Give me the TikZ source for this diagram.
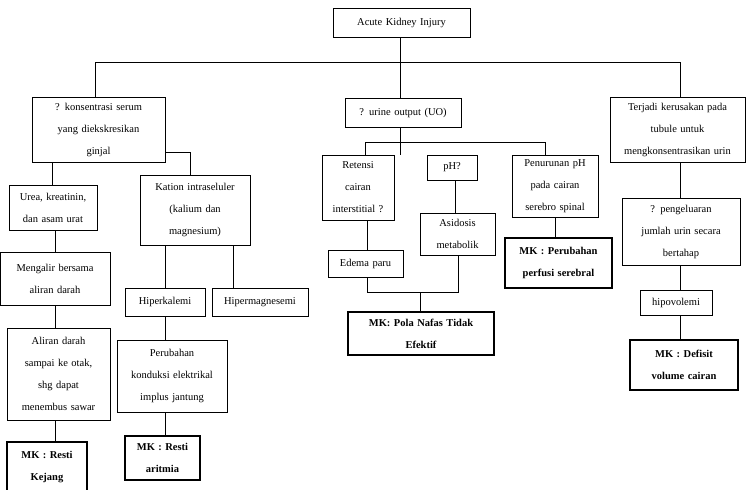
\documentclass[tikz,border=0pt]{standalone}
\usepackage{fontspec}
\setmainfont{Liberation Serif}
\begin{document}
\begin{tikzpicture}[x=1pt,y=-1pt,
  box/.style={draw,line width=0.8pt,inner sep=0pt,align=center,font=\fontsize{10.5}{22}\selectfont},
  mk/.style={box,line width=1.6pt,font=\fontsize{10.5}{22}\selectfont\bfseries},
  ln/.style={line width=0.8pt}]
\useasboundingbox (0,0) rectangle (750,490);
\newcommand\bx[7][box]{\node[#1,minimum width=#4-#2,minimum height=#5-#3,text width=#4-#2-4] (#6) at ({(#2+#4)/2},{(#3+#5)/2}) {#7};}
\bx{333}{8}{470}{37}{aki}{Acute Kidney Injury}
\bx{32}{97}{165}{162}{l1}{? konsentrasi serum\\yang diekskresikan\\ginjal}
\bx{345}{98}{461}{127}{m1}{? urine output (UO)}
\bx{610}{97}{745}{162}{r1}{Terjadi kerusakan pada\\tubule untuk\\mengkonsentrasikan urin}
\bx{9}{185}{97}{230}{urea}{Urea, kreatinin,\\dan asam urat}
\bx{140}{175}{250}{245}{kat}{Kation intraseluler\\(kalium dan\\magnesium)}
\bx{0}{252}{110}{305}{meng}{Mengalir bersama\\aliran darah}
\bx{7}{328}{110}{420}{alir}{Aliran darah\\sampai ke otak,\\shg dapat\\menembus sawar}
\bx[mk]{7}{442}{87}{492}{kej}{MK : Resti\\Kejang}
\bx{125}{288}{205}{316}{hk}{Hiperkalemi}
\bx{212}{288}{308}{316}{hm}{Hipermagnesemi}
\bx{117}{340}{227}{412}{pk}{Perubahan\\konduksi elektrikal\\implus jantung}
\bx[mk]{125}{436}{200}{480}{ar}{MK : Resti\\aritmia}
\bx{322}{155}{394}{220}{ret}{Retensi\\cairan\\interstitial ?}
\bx{427}{155}{477}{180}{ph}{pH?}
\bx{512}{155}{598}{217}{pp}{Penurunan pH\\pada cairan\\serebro spinal}
\bx{420}{213}{495}{255}{as}{Asidosis\\metabolik}
\bx{328}{250}{403}{277}{ed}{Edema paru}
\bx[mk]{348}{312}{494}{355}{pola}{MK: Pola Nafas Tidak\\Efektif}
\bx[mk]{505}{238}{612}{288}{ps}{MK : Perubahan\\perfusi serebral}
\bx{622}{198}{740}{265}{pg}{? pengeluaran\\jumlah urin secara\\bertahap}
\bx{640}{290}{712}{315}{hv}{hipovolemi}
\bx[mk]{630}{340}{738}{390}{df}{MK : Defisit\\volume cairan}
\coordinate (t) at (400,62);
\draw[ln] (aki.south -| t) -- (t);
\draw[ln] (l1.north -| 95,0) -- (95,62) -- (680,62) -- (r1.north -| 680,0);
\draw[ln] (t) -- (m1.north -| 400,0);
\draw[ln] (l1.south -| 52,0) -- (urea.north -| 52,0);
\draw[ln] (165,152) -- (190,152) -- (kat.north -| 190,0);
\draw[ln] (urea.south -| 55,0) -- (meng.north -| 55,0);
\draw[ln] (meng.south -| 55,0) -- (alir.north -| 55,0);
\draw[ln] (alir.south -| 55,0) -- (kej.north -| 55,0);
\draw[ln] (kat.south -| 165,0) -- (hk.north -| 165,0);
\draw[ln] (kat.south -| 233,0) -- (hm.north -| 233,0);
\draw[ln] (hk.south -| 165,0) -- (pk.north -| 165,0);
\draw[ln] (pk.south -| 165,0) -- (ar.north -| 165,0);
\draw[ln] (m1.south -| 400,0) -- (400,142);
\draw[ln] (ret.north -| 365,0) -- (365,142) -- (545,142) -- (pp.north -| 545,0);
\draw[ln] (400,142) -- (ph.north -| 400,0);
\draw[ln] (ph.south -| 455,0) -- (as.north -| 455,0);
\draw[ln] (ret.south -| 367,0) -- (ed.north -| 367,0);
\draw[ln] (ed.south -| 367,0) -- (367,292) -- (458,292) -- (as.south -| 458,0);
\draw[ln] (420,292) -- (pola.north -| 420,0);
\draw[ln] (pp.south -| 555,0) -- (ps.north -| 555,0);
\draw[ln] (r1.south -| 680,0) -- (pg.north -| 680,0);
\draw[ln] (pg.south -| 680,0) -- (hv.north -| 680,0);
\draw[ln] (hv.south -| 680,0) -- (df.north -| 680,0);
\end{tikzpicture}
\end{document}
